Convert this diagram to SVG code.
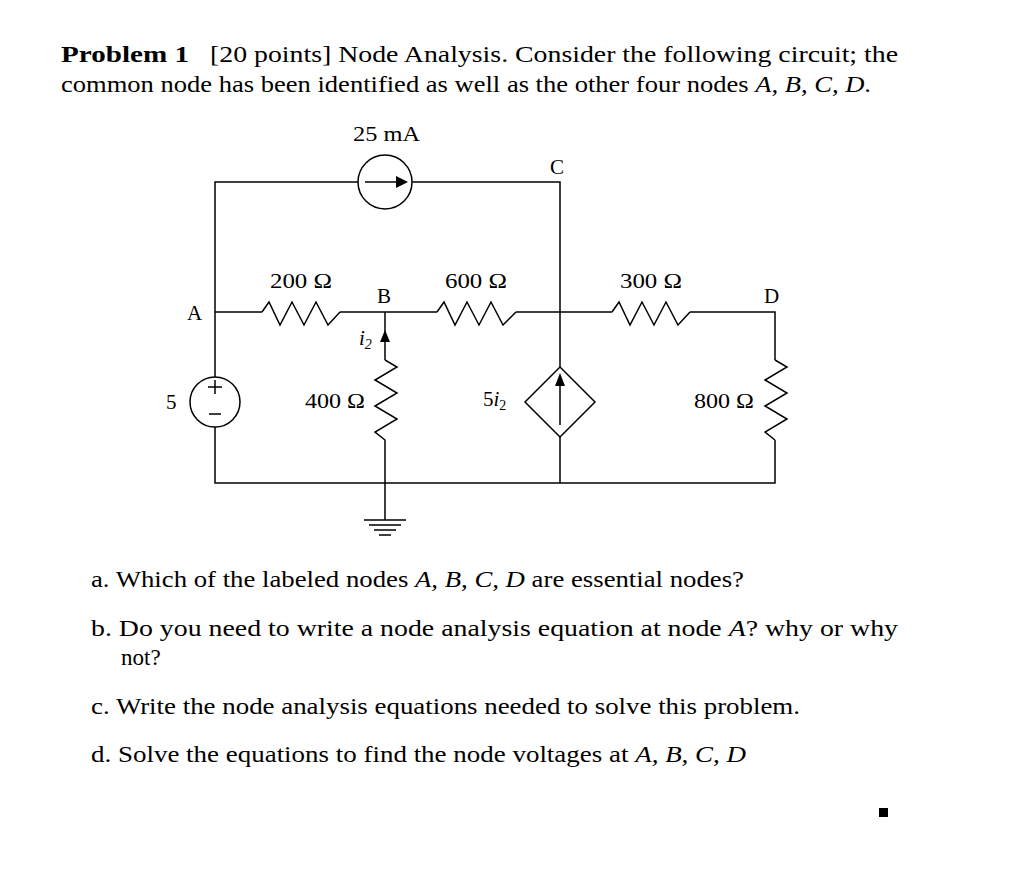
<svg xmlns="http://www.w3.org/2000/svg" width="1024" height="876" viewBox="0 0 1024 876">
<style>
.w{fill:none;stroke:#000;stroke-width:1.5}
.t{font-family:"Liberation Serif",serif;font-size:23px;fill:#000}
.c{font-family:"Liberation Serif",serif;font-size:21px;fill:#000}
.i{font-style:italic}
</style>
<rect width="1024" height="876" fill="#fff"/>
<text class="t" x="61" y="62" font-weight="bold" textLength="128" lengthAdjust="spacingAndGlyphs">Problem 1</text>
<text class="t" x="210" y="62" textLength="688" lengthAdjust="spacingAndGlyphs">[20 points] Node Analysis. Consider the following circuit; the</text>
<text class="t" x="61" y="92" textLength="810" lengthAdjust="spacingAndGlyphs">common node has been identified as well as the other four nodes <tspan class="i">A, B, C, D</tspan>.</text>
<g id="connectors">
<path class="w" d="M215,377V182H358M412,182H560V367M560,437V483M215,427V483H775V440M215,312H262M340,312H437M516,312H612M690,312H775V360M385,312V360M385,483V520"/>
</g>
<g id="isrc"><circle class="w" cx="385" cy="182" r="27"/><path class="w" d="M365,182H398"/><path d="M408,182L396,176V188Z"/><text class="c" x="353" y="141" textLength="67" lengthAdjust="spacingAndGlyphs">25 mA</text></g>
<g id="vsrc"><circle class="w" cx="215" cy="402" r="25"/><path class="w" d="M208,387H222M215,380V394M209,414H221"/><text class="c" x="166" y="409">5</text></g>
<g id="r200"><path class="w" d="M262,312L269,302L280,325L292,302L304,325L316,302L328,325L340,312"/><text class="c" x="270" y="288" textLength="62" lengthAdjust="spacingAndGlyphs">200 Ω</text></g>
<g id="r600"><path class="w" d="M437,312L444,302L455,325L467,302L479,325L491,302L503,325L516,312"/><text class="c" x="445" y="288" textLength="62" lengthAdjust="spacingAndGlyphs">600 Ω</text></g>
<g id="r300"><path class="w" d="M612,312L619,302L630,325L642,302L654,325L666,302L678,325L690,312"/><text class="c" x="620" y="288" textLength="62" lengthAdjust="spacingAndGlyphs">300 Ω</text></g>
<g id="r400"><path class="w" d="M385,360L397,367L375,380L397,393L375,406L397,419L375,432L385,440V483"/><text class="c" x="305" y="408" textLength="60" lengthAdjust="spacingAndGlyphs">400 Ω</text></g>
<g id="r800"><path class="w" d="M775,360L787,367L765,380L787,393L765,406L787,419L765,432L775,440"/><text class="c" x="694" y="408" textLength="60" lengthAdjust="spacingAndGlyphs">800 Ω</text></g>
<g id="i2"><path d="M385,330L380,342H390Z"/><text class="c i" x="359" y="345">i<tspan font-size="14" dy="4">2</tspan></text></g>
<g id="dep"><path class="w" d="M560,367L595,402L560,437L525,402Z"/><path class="w" d="M560,425V385"/><path d="M560,373L555,386H565Z"/><text class="c" x="483" y="406">5<tspan class="i">i</tspan><tspan font-size="14" dy="4">2</tspan></text></g>
<g id="gnd"><path class="w" d="M364,520H406M369,525H401M374,530H396M379,535H391"/></g>
<g id="labels" font-size="22"><text class="c" x="550" y="174" font-size="22">C</text><text class="c" x="187" y="320" font-size="22">A</text><text class="c" x="377" y="303" font-size="22">B</text><text class="c" x="764" y="303" font-size="22">D</text></g>
<text class="t" x="91" y="587" textLength="653" lengthAdjust="spacingAndGlyphs">a. Which of the labeled nodes <tspan class="i">A, B, C, D</tspan> are essential nodes?</text>
<text class="t" x="91" y="636" textLength="807" lengthAdjust="spacingAndGlyphs">b. Do you need to write a node analysis equation at node <tspan class="i">A</tspan>? why or why</text>
<text class="t" x="121" y="665">not?</text>
<text class="t" x="91" y="714" textLength="709" lengthAdjust="spacingAndGlyphs">c. Write the node analysis equations needed to solve this problem.</text>
<text class="t" x="91" y="762" textLength="655" lengthAdjust="spacingAndGlyphs">d. Solve the equations to find the node voltages at <tspan class="i">A, B, C, D</tspan></text>
<rect x="879" y="808" width="9" height="9"/>
</svg>
